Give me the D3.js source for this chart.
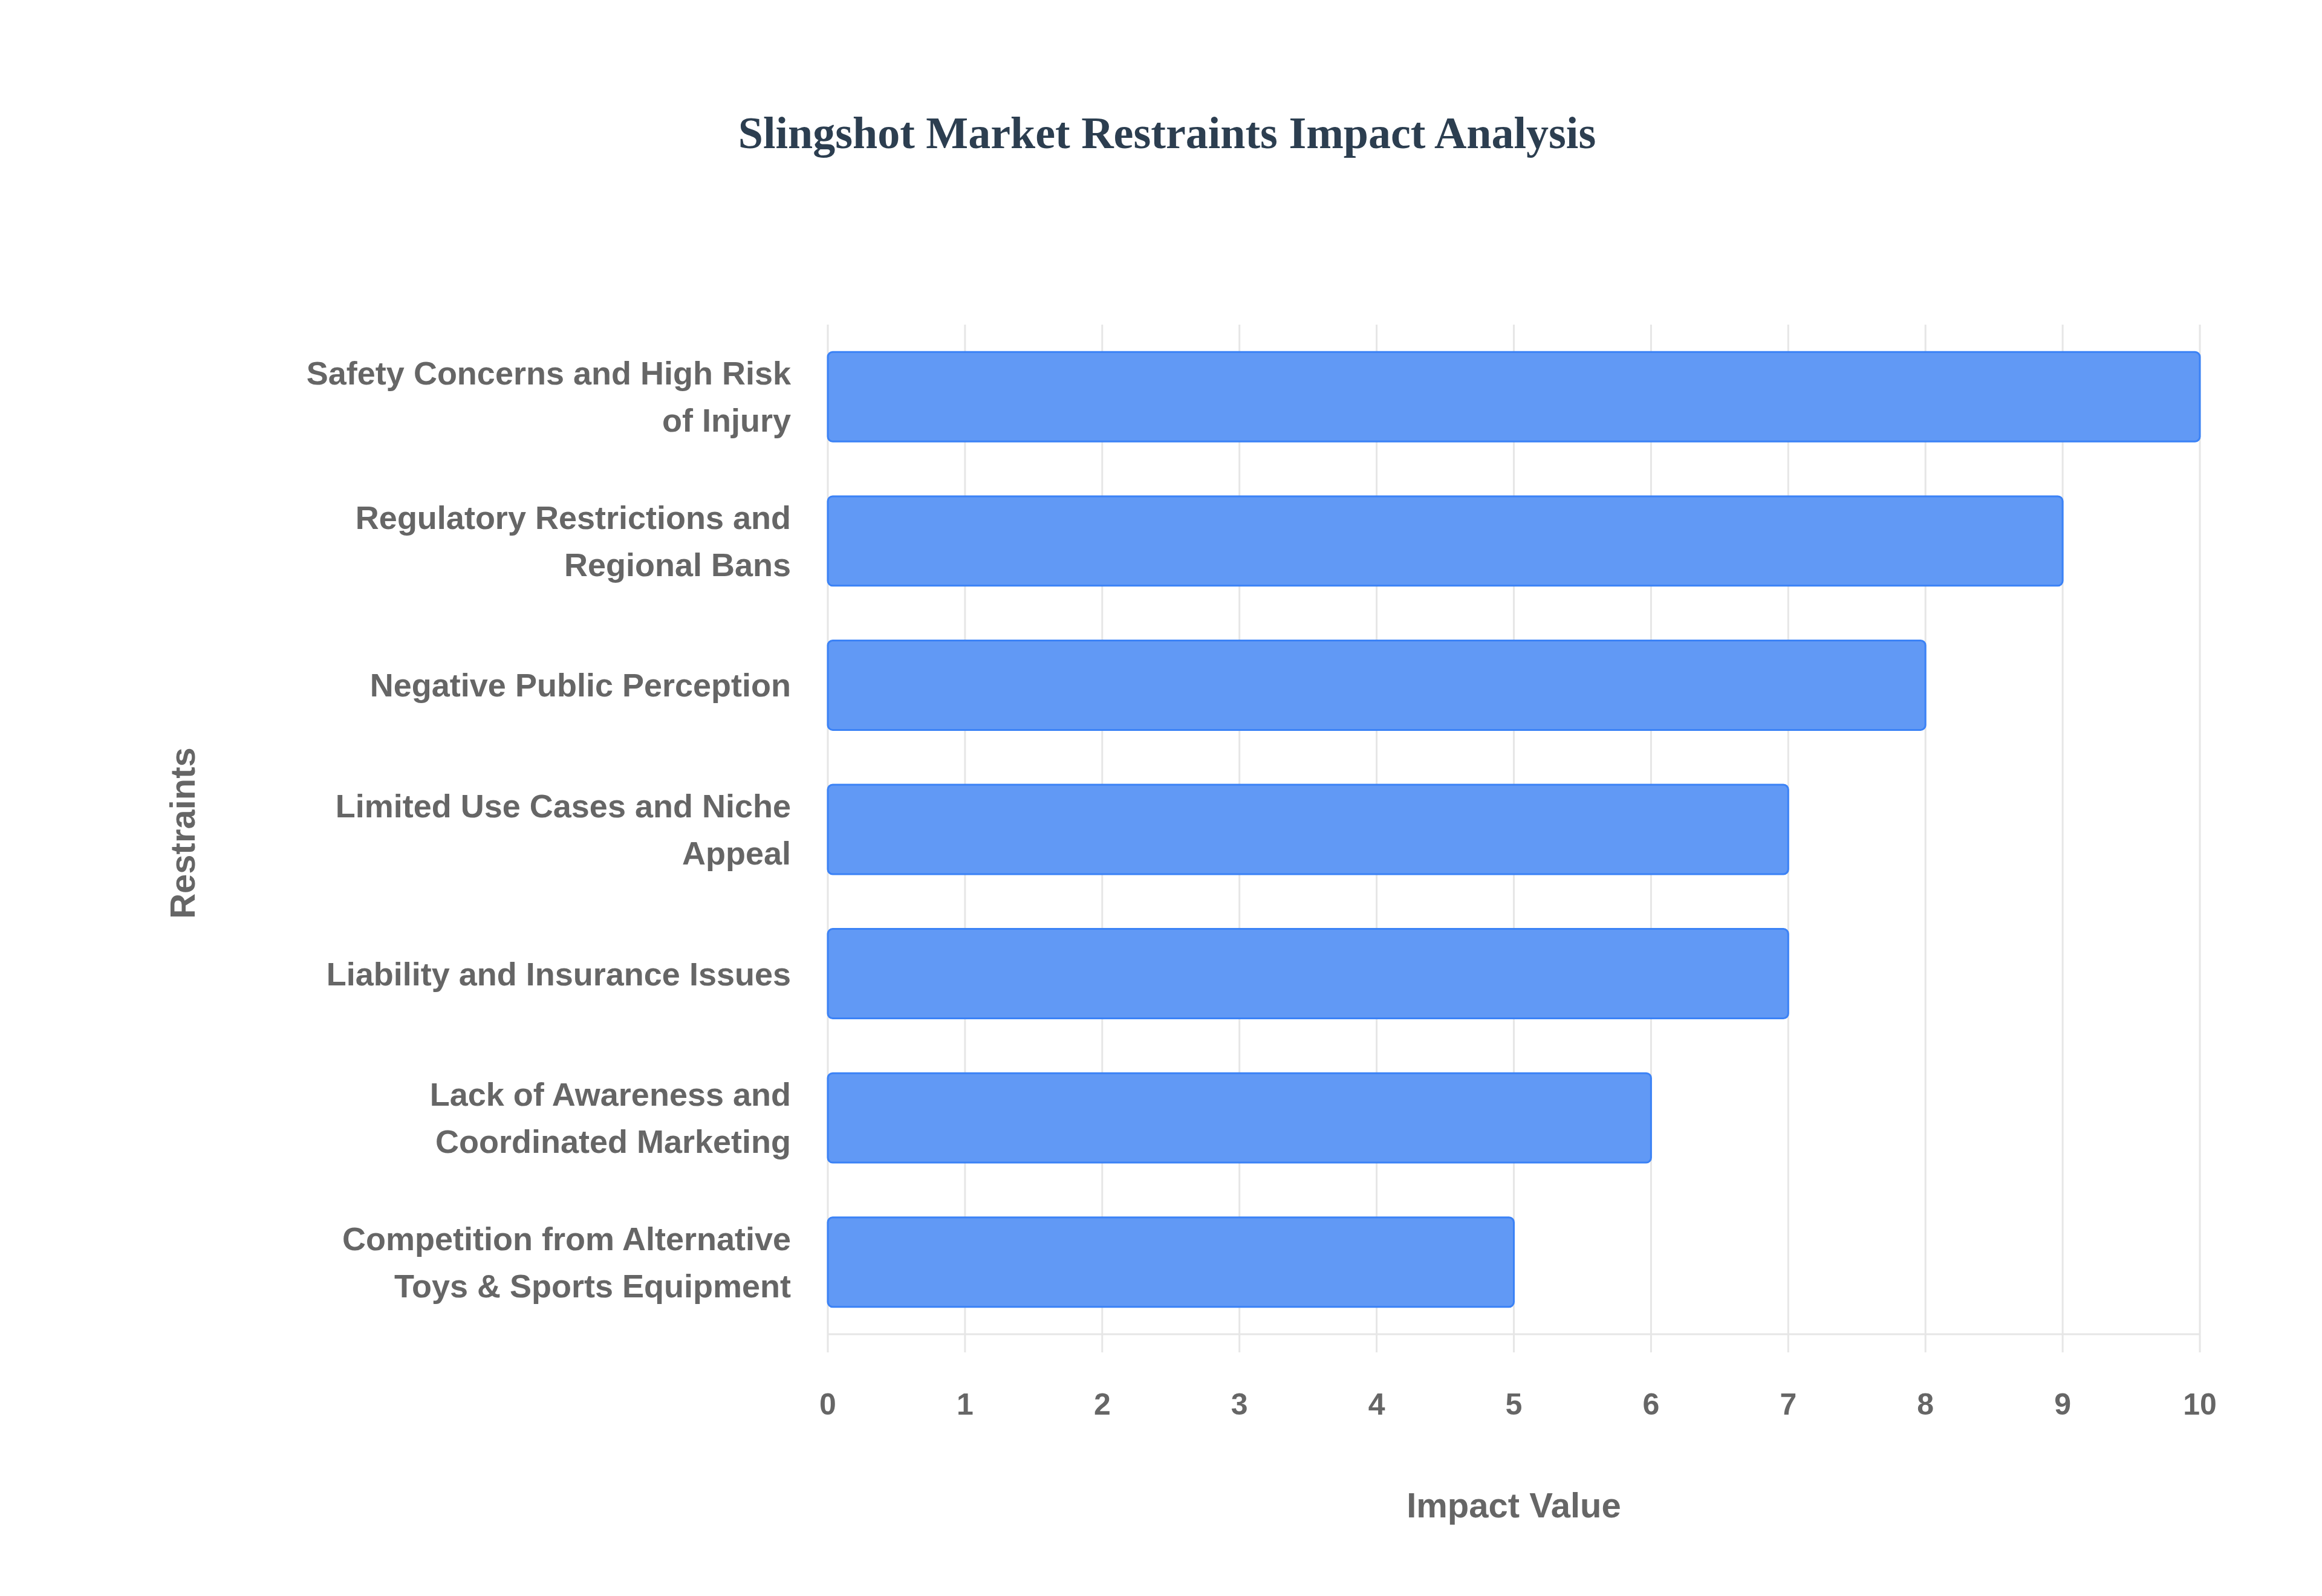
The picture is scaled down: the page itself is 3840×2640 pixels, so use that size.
<!DOCTYPE html>
<html><head><meta charset="utf-8">
<script src="https://cdn.jsdelivr.net/npm/d3@7"></script>
<style>body{margin:0;background:#fff}svg{display:block}</style>
</head><body>
<svg id="c" width="3840" height="2640"></svg>
<script>
const categories = [
  ["Safety Concerns and High Risk","of Injury"],
  ["Regulatory Restrictions and","Regional Bans"],
  ["Negative Public Perception"],
  ["Limited Use Cases and Niche","Appeal"],
  ["Liability and Insurance Issues"],
  ["Lack of Awareness and","Coordinated Marketing"],
  ["Competition from Alternative","Toys & Sports Equipment"]
];
const values = [10, 9, 8, 7, 7, 6, 5];
const xTicks = [0,1,2,3,4,5,6,7,8,9,10];

const svg = d3.select("#c");
const L = 1369, R = 3638, T = 537, B = 2207;
const x = d3.scaleLinear().domain([0,10]).range([L,R]);
const y = d3.scaleBand().domain(d3.range(values.length)).range([T,B]).paddingInner(0.38).paddingOuter(0.19);

svg.append("text").attr("x",1930).attr("y",245).attr("text-anchor","middle")
  .attr("font-family","Liberation Serif").attr("font-weight","bold").attr("font-size",74)
  .attr("fill","#2c3e50").text("Slingshot Market Restraints Impact Analysis");

// grid
svg.append("g").selectAll("line").data(xTicks).join("line")
  .attr("x1",d=>x(d)).attr("x2",d=>x(d)).attr("y1",T).attr("y2",B+30)
  .attr("stroke","#e6e6e6").attr("stroke-width",3);
svg.append("line").attr("x1",L).attr("x2",R).attr("y1",B).attr("y2",B).attr("stroke","#e6e6e6").attr("stroke-width",3);

// bars
svg.append("g").selectAll("rect").data(values).join("rect")
  .attr("x",x(0)).attr("y",(d,i)=>y(i)).attr("width",d=>x(d)-x(0)).attr("height",y.bandwidth())
  .attr("rx",8).attr("fill","#6199f5").attr("stroke","#3b82f6").attr("stroke-width",3);

// tick labels
svg.append("g").selectAll("text").data(xTicks).join("text")
  .attr("x",d=>x(d)).attr("y",2340).attr("text-anchor","middle")
  .attr("font-family","Liberation Sans").attr("font-weight","bold").attr("font-size",50)
  .attr("fill","#666").text(d=>d);

// category labels
const lab = svg.append("g").selectAll("text").data(categories).join("text")
  .attr("text-anchor","end").attr("font-family","Liberation Sans").attr("font-weight","bold")
  .attr("font-size",54).attr("fill","#666");
lab.each(function(lines,i){
  const cy = y(i)+y.bandwidth()/2;
  const lh = 78;
  const t = d3.select(this);
  lines.forEach((s,k)=>{
    t.append("tspan").attr("x",1308).attr("y",cy + (k-(lines.length-1)/2)*lh + 19).text(s);
  });
});

svg.append("text").attr("x",x(5)).attr("y",2510).attr("text-anchor","middle")
  .attr("font-family","Liberation Sans").attr("font-weight","bold").attr("font-size",58)
  .attr("fill","#666").text("Impact Value");
svg.append("text").attr("transform","translate(322,1378) rotate(-90)").attr("text-anchor","middle")
  .attr("font-family","Liberation Sans").attr("font-weight","bold").attr("font-size",58)
  .attr("fill","#666").text("Restraints");
</script>
</body></html>
